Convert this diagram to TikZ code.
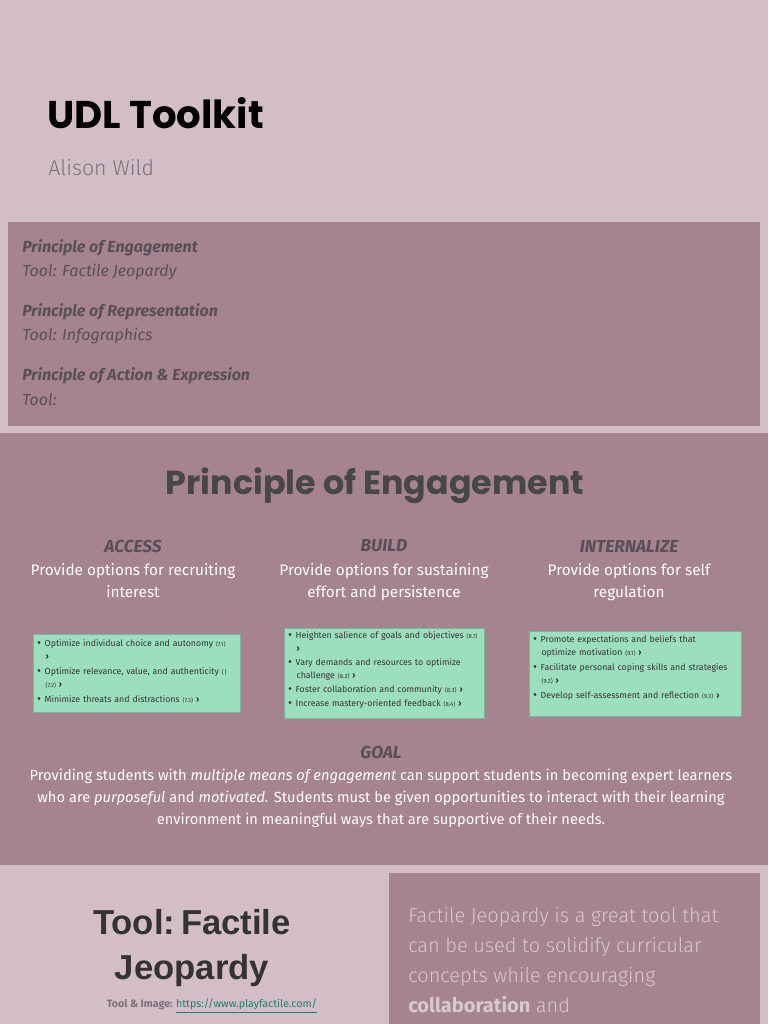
\documentclass[tikz,border=0pt]{standalone}
\usepackage{fontspec}
\setmainfont{Fira Sans}
\newfontfamily\lightf{Fira Sans Light}
\newfontfamily\popf{Poppins}
\newfontfamily\herf{Liberation Sans}
\newfontfamily\djv{DejaVu Sans}
\definecolor{lightbg}{HTML}{D3BEC8}
\definecolor{darkbg}{HTML}{A5838F}
\definecolor{greenbox}{HTML}{9CDFBE}
\definecolor{darktxt}{HTML}{333333}
\definecolor{labtxt}{HTML}{595057}
\definecolor{greytxt}{HTML}{7A7277}
\definecolor{boxtxt}{HTML}{D8C8D0}
\definecolor{linkc}{HTML}{1A7F6E}
\newcommand{\bul}{{\djv\fontsize{7}{8}\selectfont•}}
\newcommand{\rf}[1]{{\fontsize{4.5}{5}\selectfont(#1)}}
\begin{document}
\begin{tikzpicture}[x=0.75pt,y=-0.75pt,
  every node/.style={inner sep=0pt},
  lab/.style={font=\fontsize{12}{15}\selectfont\itshape\bfseries, text=labtxt, anchor=west},
  tl/.style={font=\fontsize{12}{15}\selectfont\itshape, text=labtxt, anchor=west},
  head/.style={font=\fontsize{13}{16}\selectfont\itshape\bfseries, text=labtxt},
  sub/.style={font=\fontsize{11.5}{17}\selectfont, text=white, align=center},
  gbox/.style={fill=greenbox, draw=greenbox!80!black, line width=0.3pt},
  gtxt/.style={font=\fontsize{6.6}{10}\selectfont, text=darktxt, align=left, anchor=north west, text width=#1},
]
\useasboundingbox (0,0) rectangle (768,1024);
\fill[lightbg] (0,0) rectangle (768,1024);
\fill[darkbg] (8,222) rectangle (760,426);
\fill[darkbg] (0,433) rectangle (768,865);
\fill[darkbg] (389,873) rectangle (760,1024);

\node[anchor=west, font=\popf\fontsize{29}{34}\selectfont, text=black] (title) at (47,113) {\textbf{UDL Toolkit}};
\node[anchor=west, font=\lightf\fontsize{16}{19}\selectfont, text=greytxt] (author) at (48,168) {Alison Wild};

\node[lab] (p1) at (22,248) {Principle of Engagement};
\node[tl] (t1) at (22,272) {Tool: Factile Jeopardy};
\node[lab] (p2) at (22,312) {Principle of Representation};
\node[tl] (t2) at (22,336) {Tool: Infographics};
\node[lab] (p3) at (22,376) {Principle of Action \& Expression};
\node[tl] (t3) at (22,400) {Tool:};

\node[font=\popf\fontsize{25}{30}\selectfont\bfseries, text=darktxt!90!white] (peh) at (375,486) {Principle of Engagement};

\node[head] (h1) at (133,546) {ACCESS};
\node[head] (h2) at (384,546) {BUILD};
\node[head] (h3) at (629,546) {INTERNALIZE};
\node[sub, anchor=north] (s1) at (133,563) {Provide options for recruiting\\interest};
\node[sub, anchor=north] (s2) at (384,563) {Provide options for sustaining\\effort and persistence};
\node[sub, anchor=north] (s3) at (629,563) {Provide options for self\\regulation};

\fill[gbox] (33,634) rectangle (240,712);
\fill[gbox] (284,628) rectangle (484,718);
\fill[gbox] (529,631) rectangle (741,716);
\node[gtxt=200pt] (g1) at (36,639) {%
\bul\ Optimize individual choice and autonomy \rf{7.1}\\\hspace*{7pt}\textbf{›}\\[1pt]
\bul\ Optimize relevance, value, and authenticity \rf{\,}\\\hspace*{7pt}\rf{7.2} \textbf{›}\\[1pt]
\bul\ Minimize threats and distractions \rf{7.3} \textbf{›}};
\node[gtxt=150pt] (g2) at (287,631) {%
\bul\ Heighten salience of goals and objectives \rf{8.1}\\\hspace*{7pt}\textbf{›}\\[0.5pt]
\bul\ Vary demands and resources to optimize\\\hspace*{7pt}challenge \rf{8.2} \textbf{›}\\[0.5pt]
\bul\ Foster collaboration and community \rf{8.3} \textbf{›}\\[0.5pt]
\bul\ Increase mastery-oriented feedback \rf{8.4} \textbf{›}};
\node[gtxt=160pt] (g3) at (532,635) {%
\bul\ Promote expectations and beliefs that\\\hspace*{7pt}optimize motivation \rf{9.1} \textbf{›}\\[1pt]
\bul\ Facilitate personal coping skills and strategies\\\hspace*{7pt}\rf{9.2} \textbf{›}\\[1pt]
\bul\ Develop self-assessment and reflection \rf{9.3} \textbf{›}};

\node[head] (goal) at (381,752) {GOAL};
\node[sub, anchor=north, font=\fontsize{11}{16.6}\selectfont] (goaltxt) at (381,769) {Providing students with \textit{multiple means of engagement} can support students in becoming expert learners\\
who are \textit{purposeful} and \textit{motivated.} Students must be given opportunities to interact with their learning\\
environment in meaningful ways that are supportive of their needs.};

\node[font=\herf\bfseries\fontsize{26}{34}\selectfont, text=darktxt, align=center] (tool) at (192,948) {Tool:\,Factile\\Jeopardy};
\node[font=\fontsize{8}{10}\selectfont\bfseries, text=greytxt] (src) at (212,1006) {Tool \& Image: {\mdseries\color{linkc}\underline{https://www.playfactile.com/}}};
\node[anchor=north west, font=\lightf\fontsize{15}{22.5}\selectfont, text=boxtxt, align=left] (desc) at (408,907) {Factile Jeopardy is a great tool that\\can be used to solidify curricular\\concepts while encouraging\\{\fontspec{Fira Sans}\bfseries collaboration} and};
\end{tikzpicture}
\end{document}
